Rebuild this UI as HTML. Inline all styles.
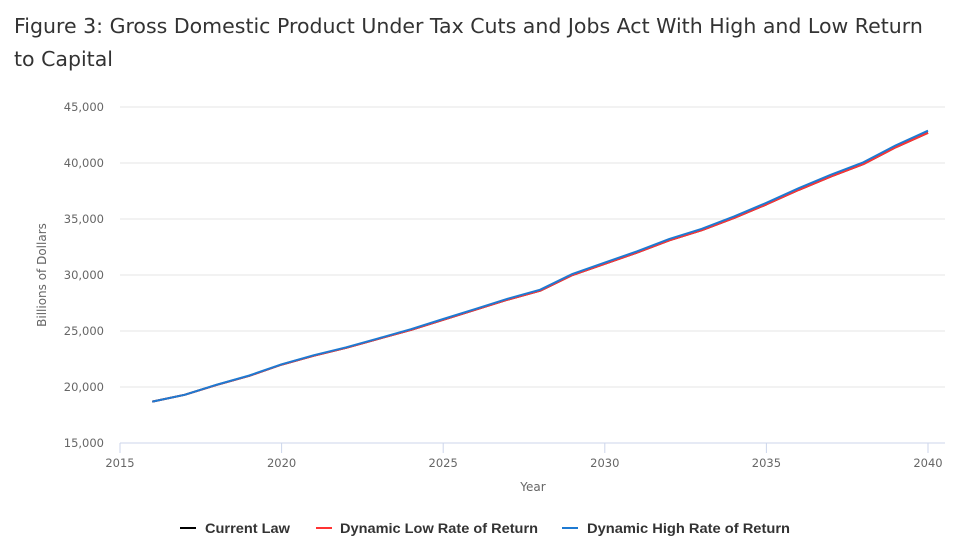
<!DOCTYPE html>
<html><head><meta charset="utf-8"><style>
body{margin:0;background:#fff;width:975px;height:555px;overflow:hidden;font-family:"DejaVu Sans","Liberation Sans",sans-serif}
</style></head><body>
<svg id="s" width="975" height="555" xmlns="http://www.w3.org/2000/svg">
<text x="14" y="33" font-size="20.5" fill="#333" font-family="DejaVu Sans, sans-serif">Figure 3: Gross Domestic Product Under Tax Cuts and Jobs Act With High and Low Return</text>
<text x="14" y="66" font-size="20.5" fill="#333" font-family="DejaVu Sans, sans-serif">to Capital</text>
<g id="g"></g>
<text transform="translate(46,275) rotate(-90)" text-anchor="middle" font-size="12" fill="#666">Billions of Dollars</text>
<text x="533" y="491" text-anchor="middle" font-size="12" fill="#666">Year</text>
<g font-size="13.5" font-weight="bold" fill="#333" font-family="Liberation Sans, sans-serif">
<line x1="180" y1="528" x2="196" y2="528" stroke="#000" stroke-width="2"/><text x="205" y="533" textLength="85" lengthAdjust="spacingAndGlyphs">Current Law</text>
<line x1="316" y1="528" x2="332" y2="528" stroke="#f33" stroke-width="2"/><text x="340" y="533" textLength="198" lengthAdjust="spacingAndGlyphs">Dynamic Low Rate of Return</text>
<line x1="562" y1="528" x2="578" y2="528" stroke="#1e7ad2" stroke-width="2"/><text x="587" y="533" textLength="203" lengthAdjust="spacingAndGlyphs">Dynamic High Rate of Return</text>
</g>
</svg>
<script>
var g=document.getElementById('g'),h='';
function X(y){return 120+(y-2015)*(808/25);}
function Y(v){return 443-(v-15000)*(336/30000);}
for(var v=15000;v<=45000;v+=5000){var y=Y(v);
 if(v>15000)h+='<line x1="120" x2="945" y1="'+y+'" y2="'+y+'" stroke="#e6e6e6"/>';
 h+='<text x="104" y="'+(y+4)+'" text-anchor="end" font-size="11.5" fill="#666">'+v.toLocaleString('en-US')+'</text>';}
h+='<line x1="120" x2="945" y1="443" y2="443" stroke="#ccd6eb"/>';
for(var yr=2015;yr<=2040;yr+=5){var x=X(yr);h+='<line x1="'+x+'" x2="'+x+'" y1="443" y2="453" stroke="#ccd6eb"/><text x="'+x+'" y="467" text-anchor="middle" font-size="11.5" fill="#666">'+yr+'</text>';}
var d=[18700,19300,20200,21000,22000,22800,23500,24300,25100,26000,26900,27800,28600,30000,31000,32000,33100,34000,35100,36300,37600,38800,39900,41400,42700];
function line(off,col){var p=d.map(function(v,i){return X(2016+i).toFixed(1)+','+Y(v+off*i/24).toFixed(1)}).join(' ');
 return '<polyline points="'+p+'" fill="none" stroke="'+col+'" stroke-width="2" stroke-linejoin="round"/>';}
h+=line(0,'#000')+line(0,'#f33')+line(180,'#1e7ad2');
g.innerHTML=h;
</script>
</body></html>
